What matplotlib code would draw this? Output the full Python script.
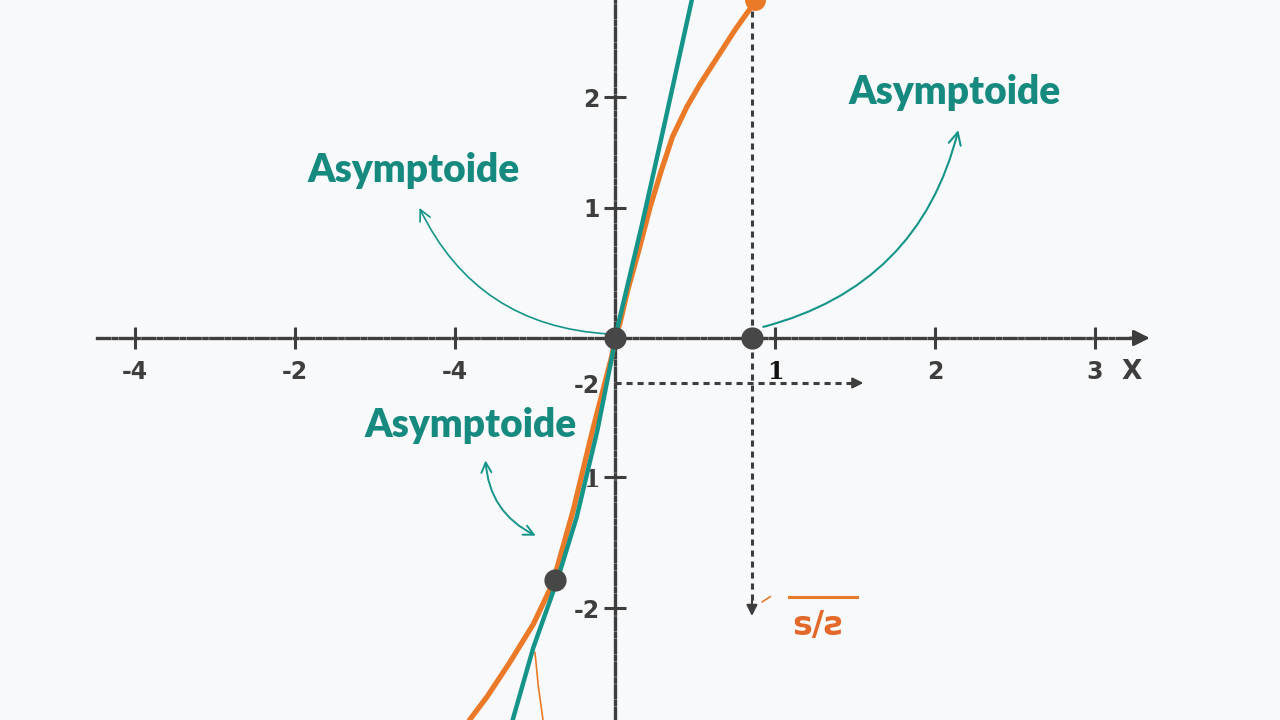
import matplotlib.pyplot as plt

# values (x: 1 unit ~ 160px, y: 1 unit ~ 130px)
teal_x = [-0.64, -0.51, -0.36, -0.24, -0.11, -0.01, 0.0, 0.17, 0.31, 0.48]
teal_y = [-2.94, -2.38, -1.86, -1.38, -0.71, -0.09, 0.0, 0.88, 1.65, 2.6]

orange_x = [-0.91, -0.80, -0.66, -0.51, -0.39, -0.26, -0.14, -0.02, 0.0, 0.03,
            0.08, 0.15, 0.22, 0.29, 0.36, 0.45, 0.53, 0.64, 0.75, 0.86, 0.875]
orange_y = [-2.94, -2.76, -2.50, -2.20, -1.89, -1.32, -0.71, -0.14, 0.0, 0.11,
            0.37, 0.68, 1.01, 1.29, 1.55, 1.78, 1.95, 2.16, 2.37, 2.56, 2.59]

thin_x = [-0.50, -0.48, -0.45]
thin_y = [-2.42, -2.67, -2.94]

dot_x = [0.0, 0.856, -0.375]
dot_y = [0.0, 0.0, -1.86]
top_dot = (0.875, 2.6)

x_ticks = [-3, -2, -1, 1, 2, 3]
x_labels = ['-4', '-2', '-4', '1', '2', '3']
y_ticks = [1.85, 1.0, -0.35, -1.07, -2.08]
y_labels = ['2', '1', '-2', '1', '-2']

notes = ['Asymptoide', 'Asymptoide', 'Asymptoide']
note_xy = [(-1.26, 1.29), (2.12, 1.89), (-0.90, -0.67)]

dark = '#3e3e3e'
teal = '#15958a'
orange = '#ea7a28'
text_teal = '#178a80'

fig = plt.figure(figsize=(12.8, 7.2), dpi=100)
fig.patch.set_facecolor('#f8f9fa')
ax = fig.add_axes([0, 0, 1, 1])
ax.set_facecolor('#f8f9fa')
ax.set_xlim(-3.84375, 4.15625)
ax.set_ylim(-2.9385, 2.6)

# axes through the origin, dash-dot like the drawing
for s in ['top', 'right']:
    ax.spines[s].set_visible(False)
ax.spines['bottom'].set_position(('data', 0))
ax.spines['left'].set_position(('data', 0))
ax.spines['bottom'].set_bounds(-3.24, 3.26)
for s in ['bottom', 'left']:
    ax.spines[s].set_color(dark)
    ax.spines[s].set_linewidth(2.4)
    ax.spines[s].set_linestyle((0, (3.6, 1.1, 1.0, 1.1)))
    ax.spines[s].set_zorder(2)
ax.annotate('', xy=(3.36, 0), xytext=(3.2, 0),
            arrowprops=dict(arrowstyle='-|>', color=dark, lw=2, mutation_scale=24))

ax.set_xticks(x_ticks, x_labels)
ax.set_yticks(y_ticks, y_labels)
ax.tick_params(direction='inout', length=16, width=2.2, color=dark,
               labelcolor=dark, labelsize=17)
ax.tick_params(axis='x', pad=8)
ax.tick_params(axis='y', pad=3)
for lab in ax.get_xticklabels() + ax.get_yticklabels():
    lab.set_fontweight('bold')
ax.get_xticklabels()[3].set_color('#111111')
ax.get_xticklabels()[3].set_family('DejaVu Serif')
ax.get_yticklabels()[3].set_family('DejaVu Serif')
ax.yaxis.get_major_ticks()[2].tick1line.set_visible(False)
ax.text(3.23, -0.26, 'X', color=dark, fontsize=19, fontweight='bold',
        ha='center', va='center')

# dashed guides
ax.plot([0.856, 0.856], [2.6, -2.05], ls=(0, (2, 1.6)), lw=2.2, color=dark, zorder=2)
ax.annotate('', xy=(0.856, -2.16), xytext=(0.856, -2.0),
            arrowprops=dict(arrowstyle='-|>', color=dark, lw=1.5, mutation_scale=16))
ax.plot([0.0, 1.5], [-0.346, -0.346], ls=(0, (2, 1.6)), lw=2.2, color=dark, zorder=2)
ax.annotate('', xy=(1.57, -0.346), xytext=(1.45, -0.346),
            arrowprops=dict(arrowstyle='-|>', color=dark, lw=1.5, mutation_scale=16))

# curves
ax.plot(orange_x, orange_y, color=orange, lw=3.8, solid_capstyle='round',
        solid_joinstyle='round', zorder=3)
ax.plot(teal_x, teal_y, color=teal, lw=3.2, solid_capstyle='round',
        solid_joinstyle='round', zorder=4)
ax.plot(thin_x, thin_y, color=orange, lw=1.2, zorder=3)

ax.plot(dot_x, dot_y, 'o', ms=15, color='#474747', zorder=6)
ax.plot(*top_dot, 'o', ms=14, color=orange, zorder=6)

# annotations
for t, (tx, ty) in zip(notes, note_xy):
    ax.text(tx, ty, t, color=text_teal, fontsize=28, fontweight='heavy',
            family='Lato', ha='center', va='center')

ax.annotate('', xy=(-1.23, 1.02), xytext=(-0.02, 0.03),
            arrowprops=dict(arrowstyle='->', color=teal, lw=1.2, mutation_scale=20,
                            connectionstyle='arc3,rad=-0.3'))
ax.annotate('', xy=(2.15, 1.62), xytext=(0.91, 0.08),
            arrowprops=dict(arrowstyle='->', color=teal, lw=1.5, mutation_scale=22,
                            connectionstyle='arc3,rad=0.3'))
ax.annotate('', xy=(-0.48, -1.53), xytext=(-0.81, -0.92),
            arrowprops=dict(arrowstyle='<->', color=teal, lw=1.4, mutation_scale=18,
                            connectionstyle='arc3,rad=0.3'))

# orange mark and mirrored label
ax.plot([1.09, 1.51], [-1.99, -1.99], color=orange, lw=2.2)
ax.plot([0.92, 0.97], [-2.03, -1.99], color=orange, lw=1.2)
ax.text(1.27, -2.21, 's/ƨ', color='#e2692a', fontsize=24, fontweight='bold',
        ha='center', va='center')

fig.savefig('out.png', dpi=100, facecolor=fig.get_facecolor())
